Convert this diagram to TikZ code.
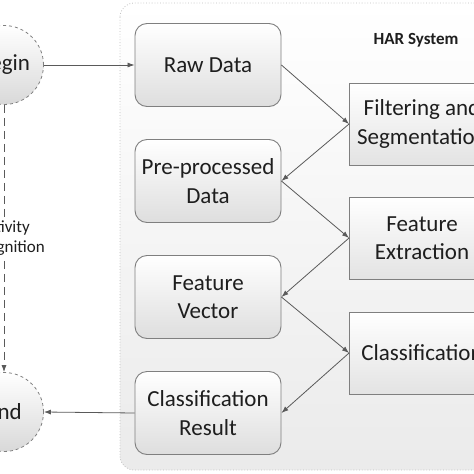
\documentclass[tikz,border=0pt]{standalone}
\usepackage{fontspec}
\setmainfont{Carlito}
\usepackage{tikz}
\usetikzlibrary{arrows.meta}

\definecolor{linegray}{HTML}{7F7F7F}
\definecolor{arrowgray}{HTML}{5A5A5A}
\definecolor{textdark}{HTML}{1E1E1E}

\begin{document}
\begin{tikzpicture}[x=1pt,y=-1pt,>={Latex[length=7pt,width=5pt]},
  stage/.style={draw=linegray,line width=0.9pt,rounded corners=12pt,top color=white,bottom color=black!13,
    minimum width=146pt,minimum height=83pt,align=center,text=textdark,font=\fontsize{23}{28.5}\selectfont},
  process/.style={draw=linegray,line width=0.9pt,top color=white,bottom color=black!11,
    minimum width=145pt,minimum height=82pt,align=center,text=textdark,font=\fontsize{23}{28.5}\selectfont},
  terminal/.style={circle,draw=linegray,dashed,line width=0.8pt,top color=white,bottom color=black!15,
    minimum size=79pt,inner sep=0pt,text=textdark,font=\fontsize{23}{28}\selectfont},
  flow/.style={->,draw=arrowgray,line width=0.8pt}]
\useasboundingbox (0,0) rectangle (474,474);
% system frame
\draw[draw=black!25,dotted,line width=0.8pt,rounded corners=14pt,top color=white,bottom color=black!8]
  (120,3) rectangle (510,470);
\node[font=\fontsize{17}{20}\selectfont\bfseries,text=textdark] (title) at (416,40) {HAR System};
% start and end
\node[terminal] (begin) at (4,65) {Begin};
\node[terminal] (end) at (4,412) {End};
% HAR stages
\node[stage] (raw) at (208,65) {Raw Data};
\node[stage] (pre) at (208,181) {Pre-processed\\Data};
\node[stage] (vec) at (208,297) {Feature\\Vector};
\node[stage] (res) at (208,413) {Classification\\Result};
\node[process] (filt) at (422,124) {Filtering and\\Segmentation};
\node[process] (extr) at (422,238) {Feature\\Extraction};
\node[process] (clas) at (422,353) {Classification};
% connectors
\draw[flow] (begin) -- (raw);
\draw[flow] (raw.east) -- (filt.west);
\draw[flow] (filt.west) -- (pre.east);
\draw[flow] (pre.east) -- (extr.west);
\draw[flow] (extr.west) -- (vec.east);
\draw[flow] (vec.east) -- (clas.west);
\draw[flow] (clas.west) -- (res.east);
\draw[flow] (res.west) -- (end.east);
\draw[flow,dashed,dash pattern=on 8pt off 5pt] (begin) -- (end)
  node[midway,fill=white,inner sep=1pt,align=center,text=textdark,font=\fontsize{17}{20}\selectfont] (label) {Activity\\Recognition};
\end{tikzpicture}
\end{document}
